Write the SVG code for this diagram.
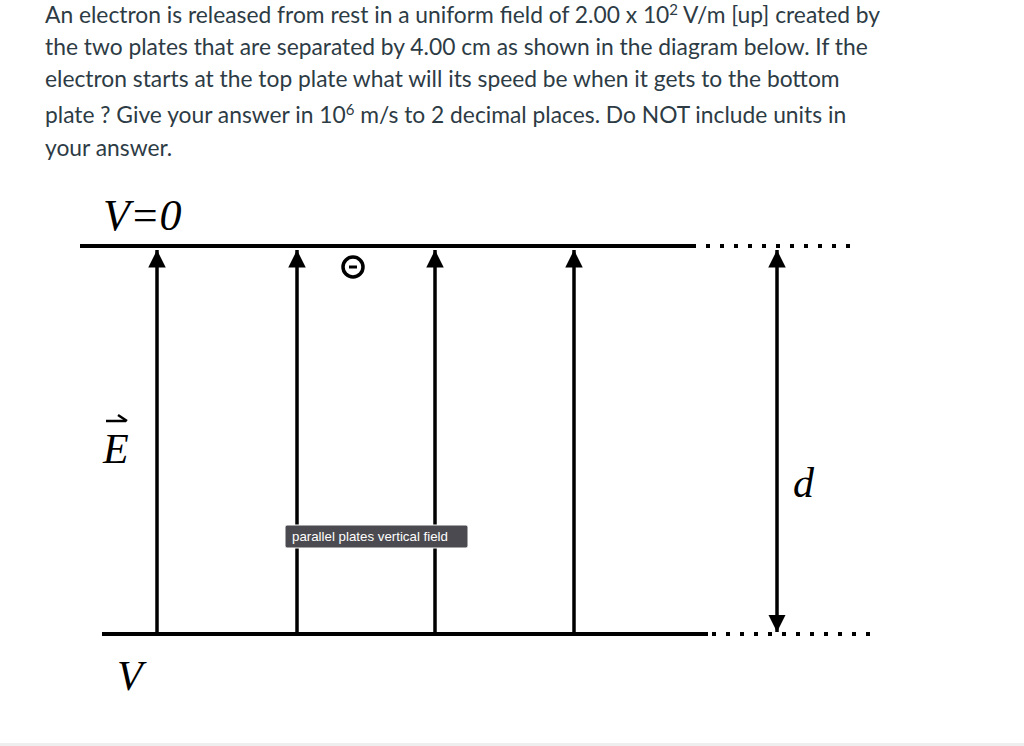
<svg xmlns="http://www.w3.org/2000/svg" width="1024" height="746" viewBox="0 0 1024 746">
<style>
.q{font-family:Lato,"Liberation Sans",sans-serif;font-size:22.8px;fill:#2d3b45}
.m{font-family:"Liberation Serif",serif;font-style:italic;fill:#000}
.pl{stroke:#000;stroke-width:4}
.ar{stroke:#000;stroke-width:3.5}
.dt{stroke:#000;stroke-width:4;stroke-dasharray:4 10}
</style>
<defs>
<marker id="h" viewBox="0 0 10 10" refX="10" refY="5" markerWidth="5" markerHeight="5" orient="auto-start-reverse" markerUnits="strokeWidth"><path d="M0,0 L10,5 L0,10z"/></marker>
</defs>
<rect width="1024" height="746" fill="#fff"/>
<g id="question">
<text class="q" x="45" y="23">An electron is released from rest in a uniform field of 2.00 x 10<tspan dy="-8" font-size="15">2</tspan><tspan dy="8"> V/m [up] created by</tspan></text>
<text class="q" x="45" y="55">the two plates that are separated by 4.00 cm as shown in the diagram below. If the</text>
<text class="q" x="45" y="87">electron starts at the top plate what will its speed be when it gets to the bottom</text>
<text class="q" x="45" y="123">plate ? Give your answer in 10<tspan dy="-8" font-size="15">6</tspan><tspan dy="8"> m/s to 2 decimal places. Do NOT include units in</tspan></text>
<text class="q" x="45" y="156">your answer.</text>
</g>
<g id="top-plate"><line class="pl" x1="80" y1="246" x2="692" y2="246"/><line class="dt" x1="692" y1="246" x2="850" y2="246"/>
<text class="m" x="103" y="230" font-size="44">V=0</text></g>
<g id="bottom-plate"><line class="pl" x1="102" y1="634" x2="708" y2="634"/><line class="dt" x1="712" y1="634" x2="870" y2="634"/>
<text class="m" x="117" y="690" font-size="42">V</text></g>
<g id="connectors">
<line class="ar" x1="157" y1="634" x2="157" y2="250" marker-end="url(#h)"/>
<line class="ar" x1="297" y1="634" x2="297" y2="250" marker-end="url(#h)"/>
<line class="ar" x1="435" y1="634" x2="435" y2="250" marker-end="url(#h)"/>
<line class="ar" x1="574" y1="634" x2="574" y2="250" marker-end="url(#h)"/>
<line class="ar" x1="777" y1="632" x2="777" y2="250" marker-start="url(#h)" marker-end="url(#h)"/>
</g>
<g id="electron"><circle cx="353" cy="267" r="10" fill="none" stroke="#000" stroke-width="3.5"/><line x1="349" y1="267" x2="357" y2="267" stroke="#000" stroke-width="3"/></g>
<g id="E-label"><text class="m" x="103" y="463" font-size="42">E</text><line x1="106" y1="421" x2="126" y2="421" stroke="#000" stroke-width="2.5"/><path d="M118,415 L127,421" stroke="#000" stroke-width="2.5"/></g>
<g id="d-label"><text class="m" x="793" y="497" font-size="42">d</text></g>
<g id="tooltip"><rect x="285" y="525" width="183" height="23" rx="2" fill="#4b4a50" stroke="#fff"/><text x="292" y="541" font-family="'Helvetica Neue','Liberation Sans',sans-serif" font-size="13.3" fill="#fff">parallel plates vertical field</text></g>
<rect x="0" y="743" width="1024" height="3" fill="#eee"/>
</svg>
